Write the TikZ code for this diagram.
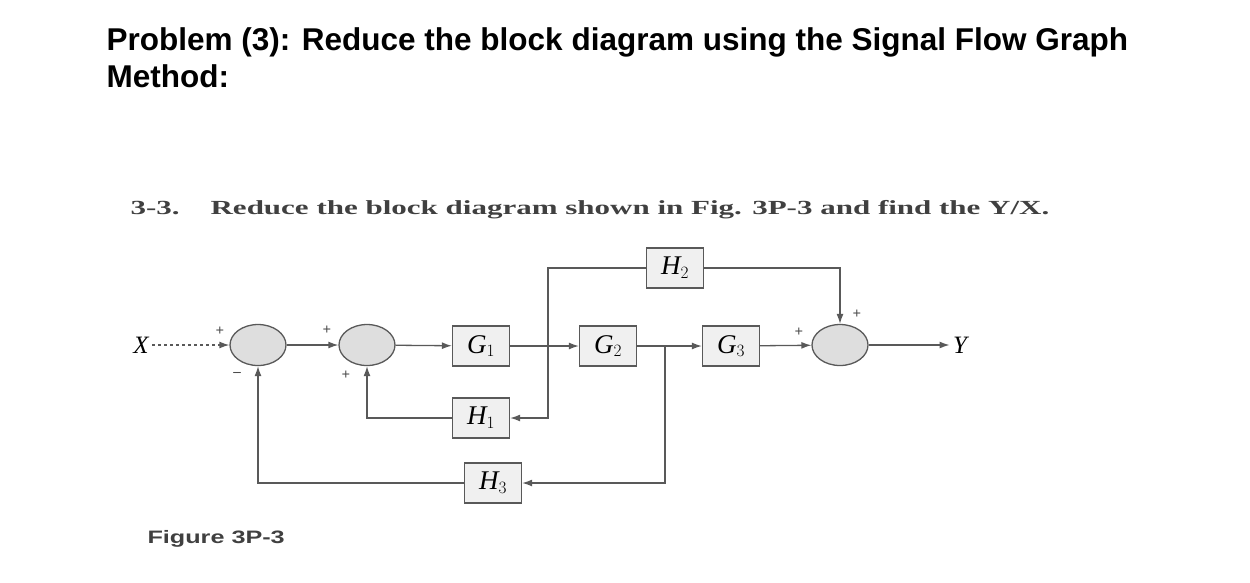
\documentclass[tikz,border=0pt]{standalone}
\usepackage{fontspec}
\setmainfont{Liberation Serif}
\newfontfamily\hdfont{Liberation Sans}
\usetikzlibrary{arrows.meta,shapes.geometric}
\begin{document}
\begin{tikzpicture}[x=1pt,y=-1pt,
  ln/.style={draw=black!65,line width=1.3pt},
  ar/.style={ln,-{Latex[length=10pt,width=7pt]}},
  blk/.style={draw=black!65,line width=1.3pt,fill=black!6,minimum width=57pt,minimum height=40pt,inner sep=0pt,font=\fontsize{27}{28}\selectfont\itshape},
  sm/.style={ellipse,draw=black!65,line width=1.3pt,fill=black!13,minimum width=56pt,minimum height=41pt,inner sep=0pt},
  sg/.style={font=\fontsize{15}{15}\selectfont\bfseries,text=black!70}]
\useasboundingbox (0,0) rectangle (1250,582);
\node[anchor=base west,font=\hdfont\bfseries\fontsize{31.5}{34}\selectfont] (t1) at (103,50) {Problem (3): Reduce the block diagram using the Signal Flow Graph};
\node[anchor=base west,font=\hdfont\bfseries\fontsize{31.5}{34}\selectfont] (t2) at (103,87) {Method:};
\node[anchor=base west,font=\bfseries\fontsize{20}{22}\selectfont,text=black!75] (sub) at (127,214) {\scalebox{1.55}[1]{3-3.\quad Reduce the block diagram shown in Fig. 3P-3 and find the Y/X.}};
\node[anchor=base west,font=\hdfont\bfseries\fontsize{18}{20}\selectfont,text=black!75] (fig) at (144,543) {\scalebox{1.4}[1]{Figure 3P-3}};
\node[font=\fontsize{25}{25}\selectfont\itshape] (X) at (141,345) {X};
\node[font=\fontsize{25}{25}\selectfont\itshape] (Y) at (960,345) {Y};
\node[sm] (s1) at (258,345) {};
\node[sm] (s2) at (367,345) {};
\node[sm] (s3) at (840,345) {};
\node[blk] (G1) at (481,346) {G$_1$};
\node[blk] (G2) at (608,346) {G$_2$};
\node[blk] (G3) at (731,346) {G$_3$};
\node[blk] (H1) at (481,418) {H$_1$};
\node[blk] (H2) at (675,268) {H$_2$};
\node[blk] (H3) at (493,483) {H$_3$};
\coordinate (b1) at (548,345);
\coordinate (b2) at (665,345);
\draw[ar,dashed] (X) -- (s1);
\draw[ar] (s1) -- (s2);
\draw[ar] (s2) -- (G1);
\draw[ar] (G1) -- (G2);
\draw[ar] (G2) -- (G3);
\draw[ar] (G3) -- (s3);
\draw[ar] (s3) -- (Y);
\draw[ar] (b1) |- (H1);
\draw[ar] (H1) -| (s2);
\draw[ln] (b1) |- (H2);
\draw[ar] (H2) -| (s3);
\draw[ar] (b2) |- (H3);
\draw[ar] (H3) -| (s1);
\node[sg] (p1) at (220,331) {+};
\node[sg] (m1) at (237,374) {--};
\node[sg] (p2) at (327,330) {+};
\node[sg] (p3) at (346,375) {+};
\node[sg] (p4) at (799,332) {+};
\node[sg] (p5) at (857,314) {+};
\end{tikzpicture}
\end{document}
